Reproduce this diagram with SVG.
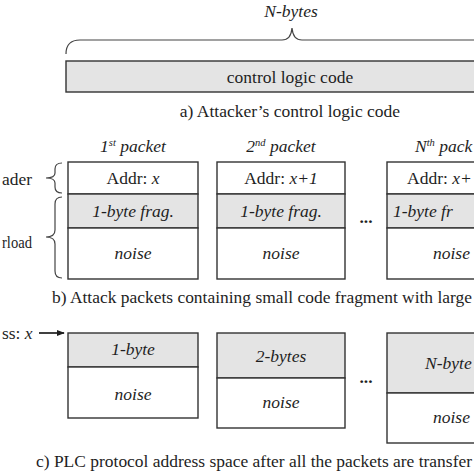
<svg xmlns="http://www.w3.org/2000/svg" width="474" height="474" viewBox="0 0 474 474">
<style>
text{font-family:"Liberation Serif","Times New Roman",serif;font-size:17.5px;fill:#1e1e1e}
.i{font-style:italic}
.m{text-anchor:middle}
.e{text-anchor:end}
.g{fill:#e4e4e4;stroke:#333;stroke-width:1.4}
.w{fill:#fff;stroke:#333;stroke-width:1.4}
.br{fill:none;stroke:#444;stroke-width:1.2}
.sup{font-size:10.5px}
</style>
<defs>
<marker id="ah" viewBox="0 0 10 10" refX="9" refY="5" markerWidth="8" markerHeight="8" orient="auto" markerUnits="userSpaceOnUse">
<path d="M0,1 L10,5 L0,9 Z" fill="#1e1e1e"/>
</marker>
</defs>
<rect width="474" height="474" fill="#fff"/>

<!-- a) -->
<g id="a-code">
<text class="i m" x="291" y="16.5">N-bytes</text>
<path class="br" d="M66,54 Q66,40 80,40 L282,40 Q291,40 292,28 Q293,40 302,40 L480,40"/>
<rect class="g" x="66" y="61" width="420" height="31"/>
<text class="m" x="290" y="83">control logic code</text>
<text class="m" x="290" y="117">a) Attacker’s control logic code</text>
</g>

<!-- b) -->
<g id="b-labels">
<text x="2" y="185" textLength="30" lengthAdjust="spacingAndGlyphs">ader</text>
<text x="2" y="248" textLength="30" lengthAdjust="spacingAndGlyphs">rload</text>
<path class="br" d="M62,163 Q55,163 55,169 L55,173 Q55,178 46,178 Q55,178 55,183 L55,187 Q55,193 62,193"/>
<path class="br" d="M62,197 Q55,197 55,204 L55,230 Q55,237 46,237 Q55,237 55,244 L55,271 Q55,278 62,278"/>
</g>
<g id="packet1">
<text class="i m" x="133" y="152">1<tspan class="sup" dy="-6">st</tspan><tspan dy="6"> packet</tspan></text>
<rect class="w" x="68" y="162" width="130" height="32"/>
<rect class="g" x="68" y="194" width="130" height="34"/>
<rect class="w" x="68" y="228" width="130" height="51"/>
<text class="m" x="133" y="184">Addr: <tspan class="i">x</tspan></text>
<text class="i m" x="133" y="217">1-byte frag.</text>
<text class="i m" x="133" y="259">noise</text>
</g>
<g id="packet2">
<text class="i m" x="281" y="152">2<tspan class="sup" dy="-6">nd</tspan><tspan dy="6"> packet</tspan></text>
<rect class="w" x="217" y="162" width="128" height="32"/>
<rect class="g" x="217" y="194" width="128" height="34"/>
<rect class="w" x="217" y="228" width="128" height="51"/>
<text class="m" x="281" y="184">Addr: <tspan class="i">x+1</tspan></text>
<text class="i m" x="281" y="217">1-byte frag.</text>
<text class="i m" x="281" y="259">noise</text>
</g>
<text class="m" x="366" y="223" style="font-weight:bold">...</text>
<g id="packetN">
<text class="i" x="415" y="152">N<tspan class="sup" dy="-6">th</tspan><tspan dy="6"> pack</tspan></text>
<rect class="w" x="387" y="162" width="130" height="32"/>
<rect class="g" x="387" y="194" width="130" height="34"/>
<rect class="w" x="387" y="228" width="130" height="51"/>
<text x="407" y="184">Addr: <tspan class="i">x+</tspan></text>
<text class="i" x="393" y="217">1-byte fr</text>
<text class="i" x="433" y="259">noise</text>
</g>
<text x="52" y="303" textLength="420" lengthAdjust="spacingAndGlyphs">b) Attack packets containing small code fragment with large</text>

<!-- c) -->
<g id="address">
<text x="2" y="339">ss: <tspan class="i">x</tspan></text>
</g>
<g id="connectors">
<line x1="39" y1="333" x2="64" y2="333" stroke="#1e1e1e" stroke-width="1.7" marker-end="url(#ah)"/>
</g>
<g id="mem1">
<rect class="g" x="68" y="333" width="130" height="34"/>
<rect class="w" x="68" y="367" width="130" height="51"/>
<text class="i m" x="133" y="355">1-byte</text>
<text class="i m" x="133" y="400">noise</text>
</g>
<g id="mem2">
<rect class="g" x="217" y="333" width="128" height="45"/>
<rect class="w" x="217" y="378" width="128" height="50"/>
<text class="i m" x="281" y="362">2-bytes</text>
<text class="i m" x="281" y="408">noise</text>
</g>
<text class="m" x="366" y="383" style="font-weight:bold">...</text>
<g id="memN">
<rect class="g" x="387" y="333" width="130" height="60"/>
<rect class="w" x="387" y="393" width="130" height="50"/>
<text class="i" x="425" y="369">N-byte</text>
<text class="i" x="433" y="423">noise</text>
</g>
<text x="36" y="467" textLength="436" lengthAdjust="spacingAndGlyphs">c) PLC protocol address space after all the packets are transfer</text>
</svg>
